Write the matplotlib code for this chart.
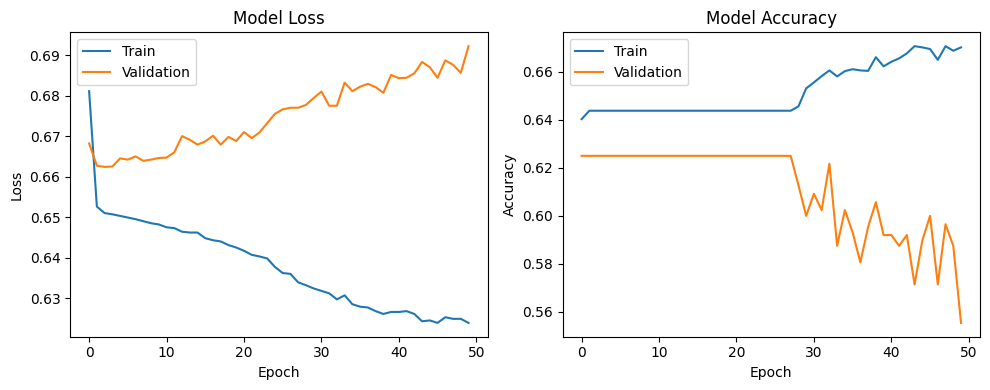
import matplotlib
matplotlib.use("Agg")
import matplotlib.pyplot as plt

epochs = list(range(50))

train_loss = [0.6811, 0.6526, 0.6510, 0.6507, 0.6503, 0.6499, 0.6495, 0.6490, 0.6485, 0.6482,
              0.6475, 0.6473, 0.6464, 0.6462, 0.6462, 0.6448, 0.6443, 0.6440, 0.6431, 0.6425,
              0.6417, 0.6407, 0.6403, 0.6398, 0.6377, 0.6362, 0.6360, 0.6339, 0.6332, 0.6324,
              0.6318, 0.6312, 0.6297, 0.6307, 0.6285, 0.6279, 0.6277, 0.6268, 0.6261, 0.6266,
              0.6266, 0.6268, 0.6261, 0.6243, 0.6245, 0.6239, 0.6253, 0.6249, 0.6249, 0.6239]

val_loss = [0.6682, 0.6627, 0.6624, 0.6625, 0.6645, 0.6642, 0.6650, 0.6639, 0.6642, 0.6646,
            0.6647, 0.6660, 0.6700, 0.6691, 0.6679, 0.6687, 0.6701, 0.6679, 0.6698, 0.6688,
            0.6710, 0.6695, 0.6709, 0.6732, 0.6755, 0.6766, 0.6770, 0.6770, 0.6777, 0.6794,
            0.6810, 0.6775, 0.6775, 0.6832, 0.6811, 0.6822, 0.6829, 0.6821, 0.6807, 0.6851,
            0.6843, 0.6844, 0.6855, 0.6883, 0.6870, 0.6844, 0.6887, 0.6876, 0.6856, 0.6922]

train_acc = [0.6403] + [0.6438] * 27 + [
    0.6456, 0.6531, 0.6556, 0.6582, 0.6606, 0.6581, 0.6603, 0.6611, 0.6606, 0.6604,
    0.6661, 0.6623, 0.6642, 0.6656, 0.6677, 0.6707, 0.6702, 0.6695, 0.6650, 0.6707,
    0.6688, 0.6702]

val_acc = [0.6250] * 28 + [
    0.6128, 0.6000, 0.6092, 0.6024, 0.6217, 0.5875, 0.6024, 0.5931, 0.5806, 0.5954,
    0.6057, 0.5920, 0.5920, 0.5875, 0.5920, 0.5714, 0.5897, 0.6000, 0.5714, 0.5965,
    0.5875, 0.5554]

fig, (ax1, ax2) = plt.subplots(1, 2, figsize=(10, 4), dpi=100)

ax1.plot(epochs, train_loss, label="Train")
ax1.plot(epochs, val_loss, label="Validation")
ax1.set_title("Model Loss")
ax1.set_xlabel("Epoch")
ax1.set_ylabel("Loss")
ax1.legend(loc="upper left")

ax2.plot(epochs, train_acc, label="Train")
ax2.plot(epochs, val_acc, label="Validation")
ax2.set_title("Model Accuracy")
ax2.set_xlabel("Epoch")
ax2.set_ylabel("Accuracy")
ax2.legend(loc="upper left")

fig.tight_layout()
fig.savefig("out.png", dpi=100, bbox_inches="tight")
